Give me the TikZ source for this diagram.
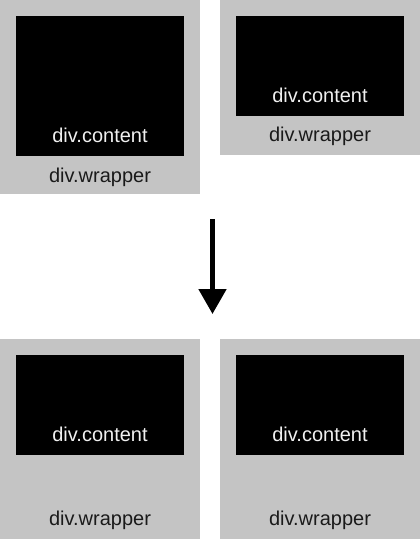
\documentclass[tikz,border=0pt]{standalone}
\usepackage{fontspec}
\setmainfont{Liberation Sans}
\usetikzlibrary{arrows.meta}
\definecolor{wrapgray}{RGB}{196,196,196}
\definecolor{wraptext}{RGB}{26,26,26}
\definecolor{contenttext}{RGB}{240,240,240}
\tikzset{
  wrapper/.style={fill=wrapgray, draw=none, inner sep=0pt, outer sep=0pt, anchor=north west, minimum width=200pt},
  content/.style={fill=black, draw=none, inner sep=0pt, outer sep=0pt, anchor=north west, minimum width=168pt},
  contentlabel/.style={anchor=base, inner sep=0pt, text=contenttext, font=\fontsize{20pt}{24pt}\selectfont},
  wrapperlabel/.style={anchor=base, inner sep=0pt, text=wraptext, font=\fontsize{20pt}{24pt}\selectfont},
  flowarrow/.style={line width=5pt, -{Triangle[length=25pt,width=27pt]}}
}
\begin{document}
\begin{tikzpicture}[x=1pt,y=-1pt]
\useasboundingbox (0,0) rectangle (420,539);
% top row
\node[wrapper, minimum height=194pt] (w1) at (0,0) {};
\node[content, minimum height=140pt] (c1) at (16,16) {};
\node[contentlabel] (c1t) at (100,142.7) {div.content};
\node[wrapperlabel] (w1t) at (100,182.5) {div.wrapper};

\node[wrapper, minimum height=155pt] (w2) at (220,0) {};
\node[content, minimum height=100pt] (c2) at (236,16) {};
\node[contentlabel] (c2t) at (320,102.2) {div.content};
\node[wrapperlabel] (w2t) at (320,141.7) {div.wrapper};

% arrow
\coordinate (a1) at (212.5,219);
\coordinate (a2) at (212.5,314);
\draw[flowarrow] (a1) -- (a2);

% bottom row
\node[wrapper, minimum height=200pt] (w3) at (0,339) {};
\node[content, minimum height=100pt] (c3) at (16,355) {};
\node[contentlabel] (c3t) at (100,441.7) {div.content};
\node[wrapperlabel] (w3t) at (100,525) {div.wrapper};

\node[wrapper, minimum height=200pt] (w4) at (220,339) {};
\node[content, minimum height=100pt] (c4) at (236,355) {};
\node[contentlabel] (c4t) at (320,441.7) {div.content};
\node[wrapperlabel] (w4t) at (320,525) {div.wrapper};
\end{tikzpicture}
\end{document}
